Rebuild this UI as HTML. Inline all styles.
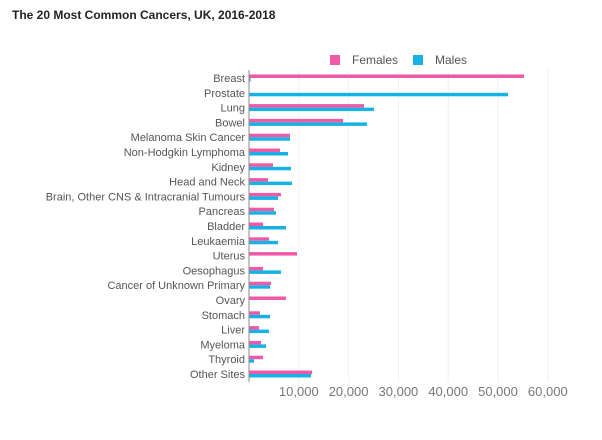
<!DOCTYPE html>
<html><head><meta charset="utf-8"><style>
html,body{margin:0;padding:0;background:#fff;}
svg{display:block;font-family:"Liberation Sans",Arial,sans-serif;}
</style></head><body>
<svg width="602" height="440" viewBox="0 0 602 440">
<rect width="602" height="440" fill="#fff"/>
<text x="12" y="19" font-size="12" font-weight="bold" fill="#222">The 20 Most Common Cancers, UK, 2016-2018</text>
<rect x="330" y="55" width="10" height="10" fill="#ef5aa8"/>
<text x="352" y="64" font-size="12" fill="#555">Females</text>
<rect x="413" y="55" width="10" height="10" fill="#16b2e6"/>
<text x="435" y="64" font-size="12" fill="#555">Males</text>
<g stroke="#f0f0f3" stroke-width="1">
<line x1="298.8" y1="70" x2="298.8" y2="382"/>
<line x1="348.6" y1="70" x2="348.6" y2="382"/>
<line x1="398.4" y1="70" x2="398.4" y2="382"/>
<line x1="448.2" y1="70" x2="448.2" y2="382"/>
<line x1="498" y1="70" x2="498" y2="382"/>
<line x1="547.8" y1="70" x2="547.8" y2="382"/>
</g>
<g font-size="13" fill="#777" text-anchor="middle">
<text x="298.8" y="396">10,000</text>
<text x="348.6" y="396">20,000</text>
<text x="398.4" y="396">30,000</text>
<text x="448.2" y="396">40,000</text>
<text x="498" y="396">50,000</text>
<text x="547.8" y="396">60,000</text>
</g>
<g font-size="11" fill="#555" text-anchor="end">
<text x="245" y="82">Breast</text>
<text x="245" y="96.8">Prostate</text>
<text x="245" y="111.6">Lung</text>
<text x="245" y="126.4">Bowel</text>
<text x="245" y="141.2">Melanoma Skin Cancer</text>
<text x="245" y="156">Non-Hodgkin Lymphoma</text>
<text x="245" y="170.8">Kidney</text>
<text x="245" y="185.6">Head and Neck</text>
<text x="245" y="200.4">Brain, Other CNS &amp; Intracranial Tumours</text>
<text x="245" y="215.2">Pancreas</text>
<text x="245" y="230">Bladder</text>
<text x="245" y="244.8">Leukaemia</text>
<text x="245" y="259.6">Uterus</text>
<text x="245" y="274.4">Oesophagus</text>
<text x="245" y="289.2">Cancer of Unknown Primary</text>
<text x="245" y="304">Ovary</text>
<text x="245" y="318.8">Stomach</text>
<text x="245" y="333.6">Liver</text>
<text x="245" y="348.4">Myeloma</text>
<text x="245" y="363.2">Thyroid</text>
<text x="245" y="378">Other Sites</text>
</g>
<g fill="#ef5aa8">
<rect x="249" y="74.5" width="275" height="3.5"/>
<rect x="249" y="104.1" width="115" height="3.5"/>
<rect x="249" y="118.9" width="94" height="3.5"/>
<rect x="249" y="133.7" width="41" height="3.5"/>
<rect x="249" y="148.5" width="31" height="3.5"/>
<rect x="249" y="163.3" width="24" height="3.5"/>
<rect x="249" y="178.1" width="19" height="3.5"/>
<rect x="249" y="192.9" width="32" height="3.5"/>
<rect x="249" y="207.7" width="25" height="3.5"/>
<rect x="249" y="222.5" width="14" height="3.5"/>
<rect x="249" y="237.3" width="20" height="3.5"/>
<rect x="249" y="252.1" width="48" height="3.5"/>
<rect x="249" y="266.9" width="14" height="3.5"/>
<rect x="249" y="281.7" width="22" height="3.5"/>
<rect x="249" y="296.5" width="37" height="3.5"/>
<rect x="249" y="311.3" width="11" height="3.5"/>
<rect x="249" y="326.1" width="10" height="3.5"/>
<rect x="249" y="340.9" width="12" height="3.5"/>
<rect x="249" y="355.7" width="14" height="3.5"/>
<rect x="249" y="370.5" width="63" height="3.5"/>
</g>
<g fill="#16b2e6">
<rect x="249" y="78" width="1.5" height="3.5"/>
<rect x="249" y="92.8" width="259" height="3.5"/>
<rect x="249" y="107.6" width="125" height="3.5"/>
<rect x="249" y="122.4" width="118" height="3.5"/>
<rect x="249" y="137.2" width="41" height="3.5"/>
<rect x="249" y="152" width="39" height="3.5"/>
<rect x="249" y="166.8" width="42" height="3.5"/>
<rect x="249" y="181.6" width="43" height="3.5"/>
<rect x="249" y="196.4" width="29" height="3.5"/>
<rect x="249" y="211.2" width="27" height="3.5"/>
<rect x="249" y="226" width="37" height="3.5"/>
<rect x="249" y="240.8" width="29" height="3.5"/>
<rect x="249" y="270.4" width="32" height="3.5"/>
<rect x="249" y="285.2" width="21" height="3.5"/>
<rect x="249" y="314.8" width="21" height="3.5"/>
<rect x="249" y="329.6" width="20" height="3.5"/>
<rect x="249" y="344.4" width="17" height="3.5"/>
<rect x="249" y="359.2" width="5" height="3.5"/>
<rect x="249" y="374" width="62" height="3.5"/>
</g>
<line x1="249" y1="70" x2="249" y2="382" stroke="#888" stroke-width="1"/>
</svg>
</body></html>
